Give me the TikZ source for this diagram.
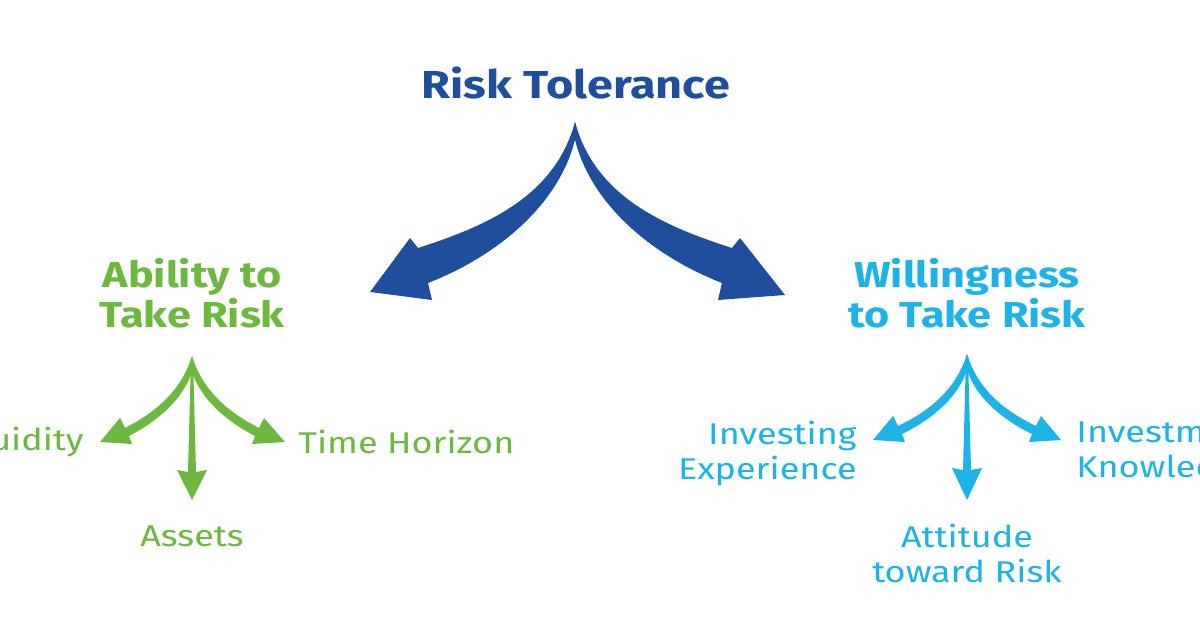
\documentclass[tikz,border=0pt]{standalone}
\usepackage{fontspec}
\setmainfont{Fira Sans}[FakeStretch=1.2]
\definecolor{dblue}{HTML}{1F4E9C}
\definecolor{lgreen}{HTML}{6DB83E}
\definecolor{lcyan}{HTML}{1DB3E6}
\begin{document}
\begin{tikzpicture}[x=0.5pt,y=-0.5pt,
  head/.style={font=\fontsize{19.5}{24}\selectfont\bfseries,text=dblue},
  sub/.style={font=\fontsize{18}{20}\selectfont\bfseries,align=center,inner sep=0},
  lab/.style={font=\fontsize{15}{17.5}\selectfont,inner sep=0}]
\useasboundingbox (0,0) rectangle (1200,630);
\clip (0,0) rectangle (1200,630);
\fill[white] (0,0) rectangle (1200,630);
\node[head] (rt) at (576,83) {Risk Tolerance};
% big arrows
\fill[dblue] (575,122) .. controls (555,195) and (490,225) .. (418,248) -- (410,238) -- (370,292) -- (432,300) -- (428,283) .. controls (500,255) and (565,200) .. (577,130) -- cycle;
\fill[dblue] (575,122) .. controls (595,195) and (660,225) .. (732,248) -- (740,238) -- (785,295) -- (718,300) -- (722,283) .. controls (650,255) and (585,200) .. (573,130) -- cycle;
\node[sub,text=lgreen] (ab) at (192,293) {Ability to\\Take Risk};
\node[sub,text=lcyan] (wi) at (967,293) {Willingness\\to Take Risk};
% green arrows
\begin{scope}[fill=lgreen]
\fill (192,356) .. controls (180,395) and (150,415) .. (125,428) -- (120,418) -- (100,442) -- (132,444) -- (129,436) .. controls (160,420) and (188,395) .. (194,364) -- cycle;
\fill (192,356) .. controls (204,395) and (234,415) .. (259,428) -- (264,418) -- (285,442) -- (252,444) -- (255,436) .. controls (224,420) and (196,395) .. (190,364) -- cycle;
\fill (191,358) -- (188,472) -- (177,470) -- (192,500) -- (207,470) -- (196,472) -- (193,358) -- cycle;
\end{scope}
\begin{scope}[fill=lcyan]
\fill (967,354) .. controls (955,393) and (925,413) .. (898,426) -- (893,416) -- (873,440) -- (905,442) -- (902,434) .. controls (935,418) and (963,393) .. (969,362) -- cycle;
\fill (967,354) .. controls (979,393) and (1009,413) .. (1036,426) -- (1041,416) -- (1061,440) -- (1029,442) -- (1032,434) .. controls (999,418) and (971,393) .. (965,362) -- cycle;
\fill (966,356) -- (963,470) -- (952,468) -- (967,500) -- (982,468) -- (971,470) -- (968,356) -- cycle;
\end{scope}
\node[lab,text=lgreen,anchor=east] (liq) at (84,442) {Liquidity};
\node[lab,text=lgreen,anchor=west] (th) at (298,442) {Time Horizon};
\node[lab,text=lgreen] (as) at (192,536) {Assets};
\node[lab,text=lcyan,anchor=east,align=right] (ie) at (857,453) {Investing\\Experience};
\node[lab,text=lcyan,anchor=west,align=left] (ik) at (1076,453) {Investment\\Knowledge};
\node[lab,text=lcyan,align=center] (at) at (967,553) {Attitude\\toward Risk};
\end{tikzpicture}
\end{document}
